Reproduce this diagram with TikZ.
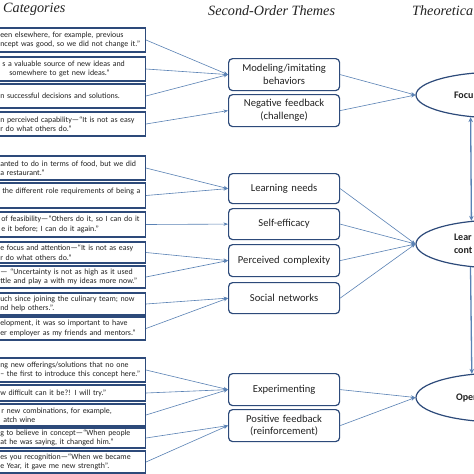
\documentclass[tikz,border=0pt]{standalone}
\usepackage{fontspec}
\setmainfont{Liberation Serif}
\newfontfamily\carl{Carlito}
\usetikzlibrary{arrows.meta,shapes.geometric}
\definecolor{boxcol}{HTML}{2D4A7A}
\definecolor{arrcol}{HTML}{5A82B5}
\definecolor{txtcol}{HTML}{222222}
\begin{document}
\begin{tikzpicture}[x=1pt,y=-1pt,
 lbox/.style={draw=boxcol,line width=1.4pt,inner xsep=4pt,inner ysep=0pt,text width=141pt,align=left,anchor=east,font=\carl\fontsize{7.9}{9.4}\selectfont,text=txtcol},
 tbox/.style={draw=boxcol,line width=1.2pt,rounded corners=4pt,minimum width=111pt,text width=105pt,inner xsep=3pt,inner ysep=0pt,align=center,anchor=north west,font=\carl\fontsize{10.6}{12.8}\selectfont,text=txtcol},
 ell/.style={ellipse,draw=boxcol,line width=1.2pt,minimum width=168pt,inner sep=0pt,text width=92pt,align=left,font=\carl\bfseries\fontsize{10}{12.8}\selectfont,text=txtcol},
 arr/.style={draw=arrcol,line width=0.6pt,-{Stealth[length=4.5pt,width=3.5pt]}},
 varr/.style={draw=arrcol,line width=1.3pt},
 title/.style={font=\itshape\fontsize{14.2}{16}\selectfont,text=txtcol,inner sep=0pt,anchor=west}]
\clip (0,0) rectangle (474,474);
\fill[white] (0,0) rectangle (474,474);

% titles
\node[title] (tc) at (3,9) {Categories};
\node[title] (ts) at (208,11) {Second-Order Themes};
\node[title] (tt) at (412,11) {Theoretica};

% left boxes
\node[lbox,minimum height=24pt] (b1) at (146,40) {een elsewhere, for example, previous\\ncept was good, so we did not change it.”};
\node[lbox,minimum height=24pt] (b2) at (146,69) {\hspace*{2pt}s a valuable source of new ideas and\\\hspace*{9pt}somewhere to get new ideas.”};
\node[lbox,minimum height=24pt] (b3) at (146,96) {n successful decisions and solutions.};
\node[lbox,minimum height=24pt] (b4) at (146,124) {n perceived capability—“It is not as easy\\r do what others do.”};

\node[lbox,minimum height=24pt] (b5) at (146,168) {anted to do in terms of food, but we did\\a restaurant.”};
\node[lbox,minimum height=25pt] (b6) at (146,195.5) {\hspace*{2pt}the different role requirements of being a\\\mbox{}};
\node[lbox,minimum height=25pt] (b7) at (146,224.5) {\hspace*{1pt}of feasibility—“Others do it, so I can do it\\\hspace*{1pt}e it before; I can do it again.”};
\node[lbox,minimum height=21pt] (b8) at (146,252.5) {e focus and attention—“It is not as easy\\r do what others do.”};
\node[lbox,minimum height=22pt] (b9) at (146,277) {— “Uncertainty is not as high as it used\\ttle and play a with my ideas more now.”};
\node[lbox,minimum height=22pt] (b10) at (146,304) {uch since joining the culinary team; now\\nd help others.”.};
\node[lbox,minimum height=23pt] (b11) at (146,328.5) {elopment, it was so important to have\\er employer as my friends and mentors.”};

\node[lbox,minimum height=24pt] (b12) at (146,370) {ng new offerings/solutions that no one\\– the first to introduce this concept here.”};
\node[lbox,minimum height=16pt] (b13) at (146,393) {w difficult can it be?! I will try.”};
\node[lbox,minimum height=22pt] (b14) at (146,415) {\hspace*{1pt}r new combinations, for example,\\\hspace*{3pt}atch wine};
\node[lbox,minimum height=20pt] (b15) at (146,438) {g to believe in concept—“When people\\at he was saying, it changed him.”};
\node[lbox,minimum height=22pt] (b16) at (146,462) {es you recognition—“When we became\\e Year, it gave me new strength”.};

% theme boxes
\node[tbox,minimum height=32pt] (t1) at (228,58) {Modeling/imitating\\behaviors};
\node[tbox,minimum height=32pt] (t2) at (228,94) {Negative feedback\\(challenge)};
\node[tbox,minimum height=30pt] (t3) at (228,173) {Learning needs};
\node[tbox,minimum height=31pt] (t4) at (228,208) {Self-efficacy};
\node[tbox,minimum height=32pt] (t5) at (228,244) {Perceived complexity};
\node[tbox,minimum height=31pt] (t6) at (228,282) {Social networks};
\node[tbox,minimum height=32pt] (t7) at (228,373) {Experimenting};
\node[tbox,minimum height=32pt] (t8) at (228,409) {Positive feedback\\(reinforcement)};

% ellipses
\node[ell,minimum height=46pt] (focus) at (500,95) {Focu};
\node[ell,minimum height=48pt] (learn) at (500,244) {Lear\\cont};
\node[ell,minimum height=49pt] (open) at (500,397.5) {\hspace*{2pt}Openi};

% arrows categories -> themes
\draw[arr] (b1.east) -- (t1.west);
\draw[arr] (b2.east) -- (t1.west);
\draw[arr] (b3.east) -- (t1.west);
\draw[arr] (b4.east) -- (t2.west);
\draw[arr] (b5.east) -- (t3.west);
\draw[arr] (b6.east) -- (t3.west);
\draw[arr] (b7.east) -- (t4.west);
\draw[arr] (b8.east) -- (t5.west);
\draw[arr] (b9.east) -- (t5.west);
\draw[arr] (b10.east) -- (t6.west);
\draw[arr] (b11.east) -- (t6.west);
\draw[arr] (b12.east) -- (t7.west);
\draw[arr] (b13.east) -- (t7.west);
\draw[arr] (b14.east) -- (t7.west);
\draw[arr] (b15.east) -- (t8.west);
\draw[arr] (b16.east) -- (t8.west);

% themes -> dimensions
\draw[arr] (t1.east) -- (focus.west);
\draw[arr] (t2.east) -- (focus.west);
\draw[arr] (t3.east) -- (learn.west);
\draw[arr] (t4.east) -- (learn.west);
\draw[arr] (t5.east) -- (learn.west);
\draw[arr] (t6.east) -- (learn.west);
\draw[arr] (t7.east) -- (open.west);
\draw[arr] (t8.east) -- (open.west);

% vertical connectors
\draw[varr,{Stealth[length=5pt,width=4.5pt]}-{Stealth[length=5pt,width=4.5pt]}] (focus.217.8) -- (learn.141.1);
\draw[varr,-{Stealth[length=5pt,width=4.5pt]}] (learn.218.9) -- (open.140.5);
\end{tikzpicture}
\end{document}
